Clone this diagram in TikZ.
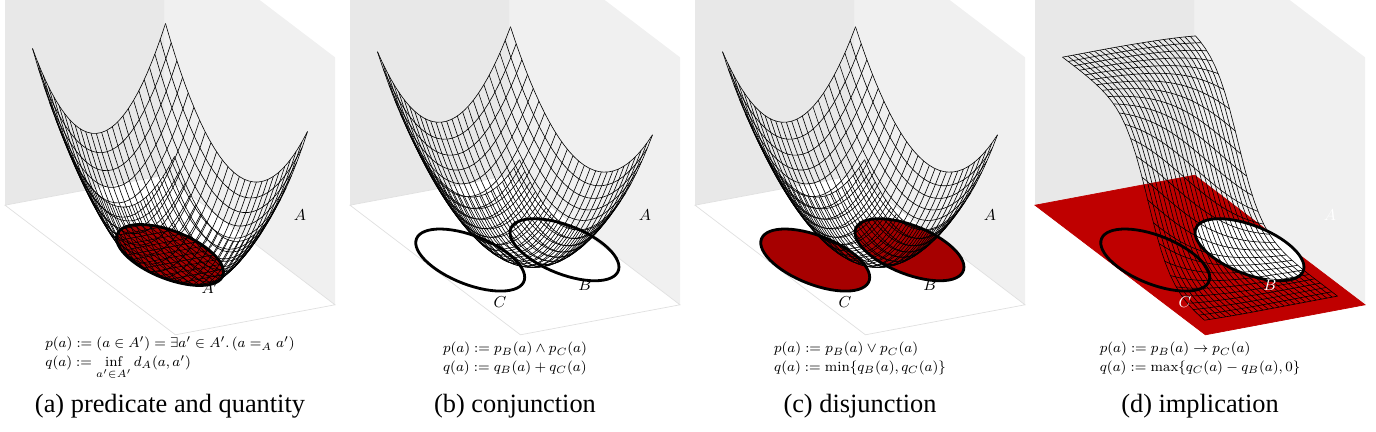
\documentclass[tikz,border=0pt]{standalone}
\usepackage{fontspec}
\newfontfamily\capfont{Liberation Serif}
\tikzset{
  declare function={
    px(\x,\y)=1.42*\x+1.33*\y;
    py(\x,\y,\z)=-1.08*\x+0.25*\y+3.3*\z;
    fa(\x,\y)=max(0,\x*\x+\y*\y-0.3)/1.7;
    fb(\x,\y)=max(0,\x*\x+\y*\y-0.04)/2;
    fd(\x,\y)=0.95/(1+exp(min(6,max(-6,6*(\x+0.3*\y+0.1)))));
  },
  meshl/.style={line width=0.35pt,black},
  wall/.style={fill=black!6,draw=none},
  floorq/.style={fill=white,draw=black!12},
  ring/.style={line width=1.6pt,black},
  discfill/.style={fill=red!65!black},
  lab/.style={font=\small\itshape},
  formula/.style={font=\footnotesize,align=left},
  capt/.style={font=\capfont\fontsize{15}{18}\selectfont}
}
\newcommand\mymesh[1]{%
  \foreach \i in {0,...,25}{%
    \pgfmathsetmacro\t{-1+\i/12.5}%
    \draw[meshl] plot[domain=-1:1,samples=30,variable=\s] ({px(\s,\t)},{py(\s,\t,#1(\s,\t))});
    \draw[meshl] plot[domain=-1:1,samples=30,variable=\s] ({px(\t,\s)},{py(\t,\s,#1(\t,\s))});
  }}
\newcommand\myroom[1]{%
  \fill[wall] ({px(-1.2,1.2)},{py(-1.2,1.2,0)}) -- ({px(1.2,1.2)},{py(1.2,1.2,0)}) -- ({px(1.2,1.2)},{py(1.2,1.2,1.5)}) -- ({px(-1.2,1.2)},{py(-1.2,1.2,1.5)}) -- cycle;
  \fill[wall,fill=black!9] ({px(-1.2,-1.2)},{py(-1.2,-1.2,0)}) -- ({px(-1.2,1.2)},{py(-1.2,1.2,0)}) -- ({px(-1.2,1.2)},{py(-1.2,1.2,1.5)}) -- ({px(-1.2,-1.2)},{py(-1.2,-1.2,1.5)}) -- cycle;
  \filldraw[floorq,#1] ({px(-1.2,-1.2)},{py(-1.2,-1.2,0)}) -- ({px(1.2,-1.2)},{py(1.2,-1.2,0)}) -- ({px(1.2,1.2)},{py(1.2,1.2,0)}) -- ({px(-1.2,1.2)},{py(-1.2,1.2,0)}) -- cycle;}
\newcommand\mycirc[3]{plot[domain=0:360,samples=60,variable=\a] ({px(#1+#3*cos(\a),#2+#3*sin(\a))},{py(#1+#3*cos(\a),#2+#3*sin(\a),0)}) -- cycle}
\newcommand\panelclip{\clip (-3.4,-2) rectangle (3.4,5.2);}
\begin{document}
\begin{tikzpicture}
\useasboundingbox (0,0) rectangle (27.52,8.62);
\clip (0,0) rectangle (27.52,8.62);
% (a)
\begin{scope}[shift={(3.4,3.52)}]
  \begin{scope}\panelclip \myroom{} \end{scope}
  \fill[discfill] \mycirc{0}{0}{0.55};
  \begin{scope}\panelclip \mymesh{fa} \end{scope}
  \draw[ring] \mycirc{0}{0}{0.55};
  \node[lab] (lA) at (2.6,0.8) {$A$};
  \node[lab] (lAp) at (0.8,-0.65) {$A'$};
\end{scope}
\node[formula] (fa) at (3.4,1.45) {$p(a) := (a\in A') = \exists a'\in A'.\,(a =_A a')$\\[1pt]$q(a) := \inf\limits_{a'\in A'} d_A(a,a')$};
\node[capt] (ca) at (3.4,0.5) {(a) predicate and quantity};
% (b)
\begin{scope}[shift={(10.3,3.52)}]
  \begin{scope}\panelclip \myroom{} \end{scope}
  \begin{scope}\clip \mycirc{-0.05}{-0.62}{0.56}; \fill[discfill] \mycirc{0.06}{0.68}{0.56}; \end{scope}
  \begin{scope}\panelclip \mymesh{fb} \end{scope}
  \draw[ring] \mycirc{-0.05}{-0.62}{0.56};
  \draw[ring] \mycirc{0.06}{0.68}{0.56};
  \node[lab] (lbA) at (2.6,0.8) {$A$};
  \node[lab] (lbC) at (-0.3,-0.95) {$C$};
  \node[lab] (lbB) at (1.4,-0.6) {$B$};
\end{scope}
\node[formula] (fb) at (10.3,1.45) {$p(a) := p_B(a)\wedge p_C(a)$\\[1pt]$q(a) := q_B(a) + q_C(a)$};
\node[capt] (cb) at (10.3,0.5) {(b) conjunction};
% (c)
\begin{scope}[shift={(17.2,3.52)}]
  \begin{scope}\panelclip \myroom{} \end{scope}
  \fill[discfill] \mycirc{-0.05}{-0.62}{0.56};
  \fill[discfill] \mycirc{0.06}{0.68}{0.56};
  \begin{scope}\panelclip \mymesh{fb} \end{scope}
  \draw[ring] \mycirc{-0.05}{-0.62}{0.56};
  \draw[ring] \mycirc{0.06}{0.68}{0.56};
  \node[lab] (lcA) at (2.6,0.8) {$A$};
  \node[lab] (lcC) at (-0.3,-0.95) {$C$};
  \node[lab] (lcB) at (1.4,-0.6) {$B$};
\end{scope}
\node[formula] (fc) at (17.2,1.45) {$p(a) := p_B(a)\vee p_C(a)$\\[1pt]$q(a) := \min\{q_B(a), q_C(a)\}$};
\node[capt] (cc) at (17.2,0.5) {(c) disjunction};
% (d)
\begin{scope}[shift={(24.0,3.52)}]
  \begin{scope}\panelclip \myroom{fill=red!75!black,draw=red!75!black} \end{scope}
  \fill[white] \mycirc{0.06}{0.68}{0.56};
  \begin{scope}\panelclip \mymesh{fd} \end{scope}
  \draw[ring] \mycirc{-0.05}{-0.62}{0.56};
  \draw[ring] \mycirc{0.06}{0.68}{0.56};
  \node[lab,white] (ldA) at (2.6,0.8) {$A$};
  \node[lab,white] (ldC) at (-0.3,-0.95) {$C$};
  \node[lab,white] (ldB) at (1.4,-0.6) {$B$};
\end{scope}
\node[formula] (fd) at (24.0,1.45) {$p(a) := p_B(a)\rightarrow p_C(a)$\\[1pt]$q(a) := \max\{q_C(a) - q_B(a), 0\}$};
\node[capt] (cd) at (24.0,0.5) {(d) implication};
\end{tikzpicture}
\end{document}
